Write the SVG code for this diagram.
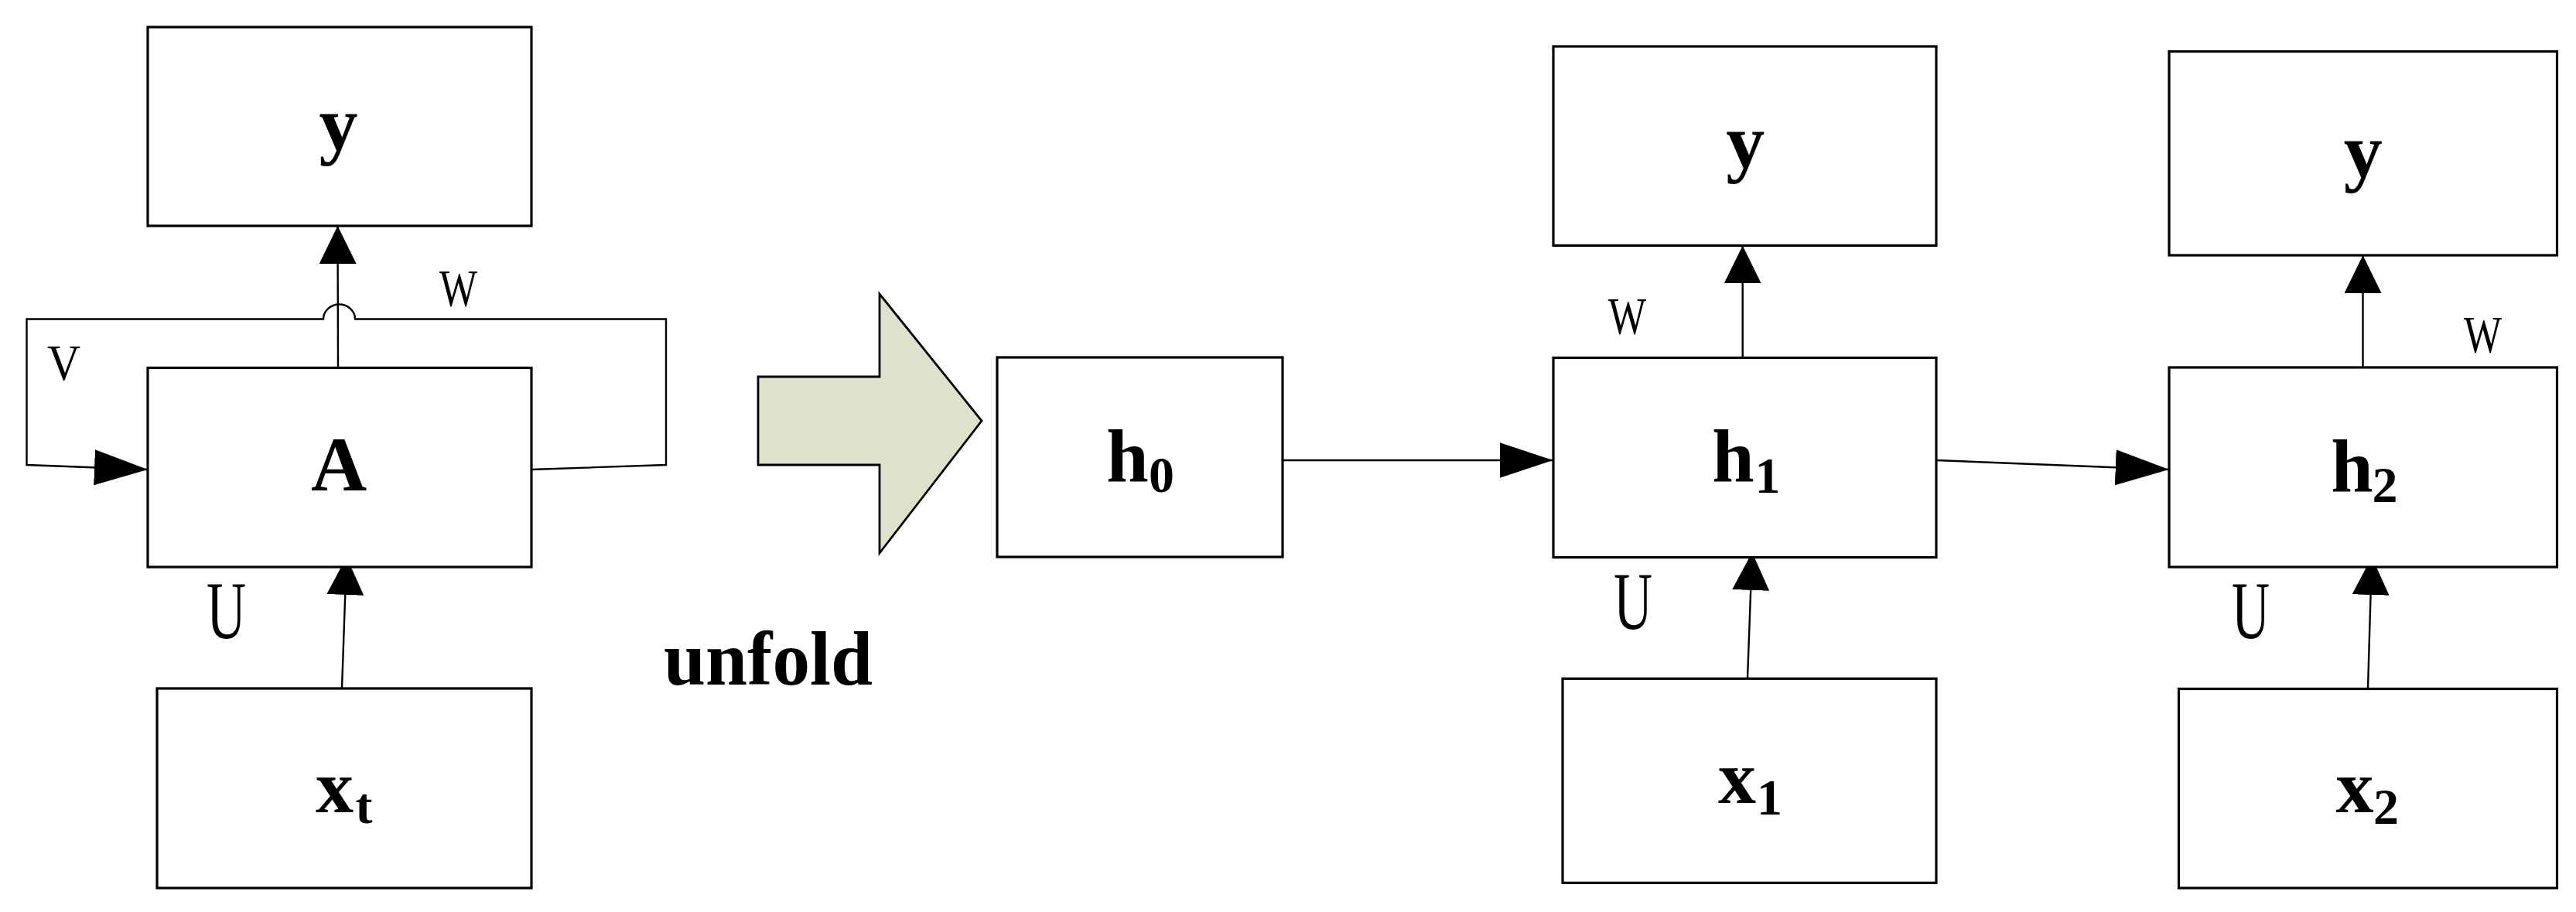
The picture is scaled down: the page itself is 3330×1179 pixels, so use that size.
<svg xmlns="http://www.w3.org/2000/svg" width="3330" height="1179" viewBox="0 0 3330 1179">
  <style>
    .box { fill: #ffffff; stroke: #000000; stroke-width: 3.2; }
    .conn { fill: none; stroke: #000000; stroke-width: 2.4; }
    .lbl { font-family: "Liberation Serif", "Times New Roman", serif; font-weight: bold; font-size: 100px; fill: #000000; text-anchor: middle; }
    .sub { font-size: 66px; }
    .wl { font-family: "Liberation Serif", "Times New Roman", serif; font-weight: normal; fill: #000000; }
  </style>
  <defs>
    <marker id="ah" markerUnits="userSpaceOnUse" orient="auto" markerWidth="72" markerHeight="52" refX="69" refY="23">
      <path d="M0,0 L69,23 L0,46 z" fill="#000000"/>
    </marker>
    <marker id="av" markerUnits="userSpaceOnUse" orient="auto" markerWidth="52" markerHeight="52" refX="49" refY="24">
      <path d="M0,0 L49,24 L0,48 z" fill="#000000"/>
    </marker>
  </defs>
  <rect width="3330" height="1179" fill="#ffffff"/>

  <g id="connectors">
    <path class="conn" d="M437,475.5 L436.5,292" marker-end="url(#av)"/>
    <path class="conn" d="M686.5,607 L861,601 L861,412.5 L459,412.5 A20.5,19 0 0 0 418,412.5 L34.5,412.5 L34.5,601 L191,607" marker-end="url(#ah)"/>
    <path class="conn" d="M442,889.3 L448,720" marker-end="url(#av)"/>
    <path class="conn" d="M1658,595 L2007.5,595" marker-end="url(#ah)"/>
    <path class="conn" d="M2252.7,462.5 L2252.7,317.4" marker-end="url(#av)"/>
    <path class="conn" d="M2503,595 L2803.7,607" marker-end="url(#ah)"/>
    <path class="conn" d="M3054.5,475 L3054.5,330" marker-end="url(#av)"/>
    <path class="conn" d="M2259,876.7 L2265,714" marker-end="url(#av)"/>
    <path class="conn" d="M3061,889.5 L3066,720" marker-end="url(#av)"/>
  </g>

  <g id="edge-labels">
    <text class="wl" x="568" y="395" font-size="68" textLength="49" lengthAdjust="spacingAndGlyphs">W</text>
    <text class="wl" x="61" y="491" font-size="66" textLength="43" lengthAdjust="spacingAndGlyphs">V</text>
    <text class="wl" x="267" y="825" font-size="106" textLength="51" lengthAdjust="spacingAndGlyphs">U</text>
    <text class="wl" x="2079" y="431" font-size="68" textLength="49" lengthAdjust="spacingAndGlyphs">W</text>
    <text class="wl" x="2086" y="812.6" font-size="106" textLength="50" lengthAdjust="spacingAndGlyphs">U</text>
    <text class="wl" x="3185" y="455" font-size="68" textLength="49" lengthAdjust="spacingAndGlyphs">W</text>
    <text class="wl" x="2885" y="825" font-size="106" textLength="49" lengthAdjust="spacingAndGlyphs">U</text>
  </g>

  <g id="node-y-left">
    <rect class="box" x="191" y="35" width="496" height="257"/>
    <text class="lbl" x="437.5" y="194">y</text>
  </g>
  <g id="node-A">
    <rect class="box" x="191" y="475.5" width="496" height="257.5"/>
    <text class="lbl" x="438" y="633.5" font-size="98">A</text>
  </g>
  <g id="node-xt">
    <rect class="box" x="203" y="890" width="484" height="258"/>
    <text class="lbl"><tspan x="432.5" y="1049.5" font-size="98">x</tspan><tspan class="sub" x="470.5" y="1064">t</tspan></text>
  </g>

  <g id="unfold">
    <polygon points="980,487 1137,487 1137,380 1269,544 1137,715 1137,601 980,601" fill="#DEE1CC" stroke="#000000" stroke-width="2.8" stroke-linejoin="miter"/>
    <text class="lbl" x="858" y="885" style="text-anchor:start" textLength="270" lengthAdjust="spacingAndGlyphs">unfold</text>
  </g>

  <g id="node-h0">
    <rect class="box" x="1289" y="462" width="369" height="258"/>
    <text class="lbl"><tspan x="1457.5" y="622.7" font-size="98">h</tspan><tspan class="sub" x="1501.5" y="636">0</tspan></text>
  </g>

  <g id="node-y1">
    <rect class="box" x="2008" y="60" width="495" height="257.4"/>
    <text class="lbl" x="2256.3" y="217.4">y</text>
  </g>
  <g id="node-h1">
    <rect class="box" x="2008" y="462.5" width="495" height="258"/>
    <text class="lbl"><tspan x="2240.5" y="623" font-size="98">h</tspan><tspan class="sub" x="2285" y="637">1</tspan></text>
  </g>
  <g id="node-x1">
    <rect class="box" x="2020" y="877.3" width="483" height="264"/>
    <text class="lbl"><tspan x="2245.5" y="1038.3" font-size="98">x</tspan><tspan class="sub" x="2287.5" y="1053">1</tspan></text>
  </g>

  <g id="node-y2">
    <rect class="box" x="2804" y="66.5" width="501.5" height="263.5"/>
    <text class="lbl" x="3054.7" y="228.7">y</text>
  </g>
  <g id="node-h2">
    <rect class="box" x="2804" y="475" width="501.5" height="258"/>
    <text class="lbl"><tspan x="3040.5" y="636" font-size="98">h</tspan><tspan class="sub" x="3083" y="649">2</tspan></text>
  </g>
  <g id="node-x2">
    <rect class="box" x="2816.5" y="890.5" width="489" height="257.5"/>
    <text class="lbl"><tspan x="3044" y="1049.7" font-size="98">x</tspan><tspan class="sub" x="3084.5" y="1064.7">2</tspan></text>
  </g>
</svg>
